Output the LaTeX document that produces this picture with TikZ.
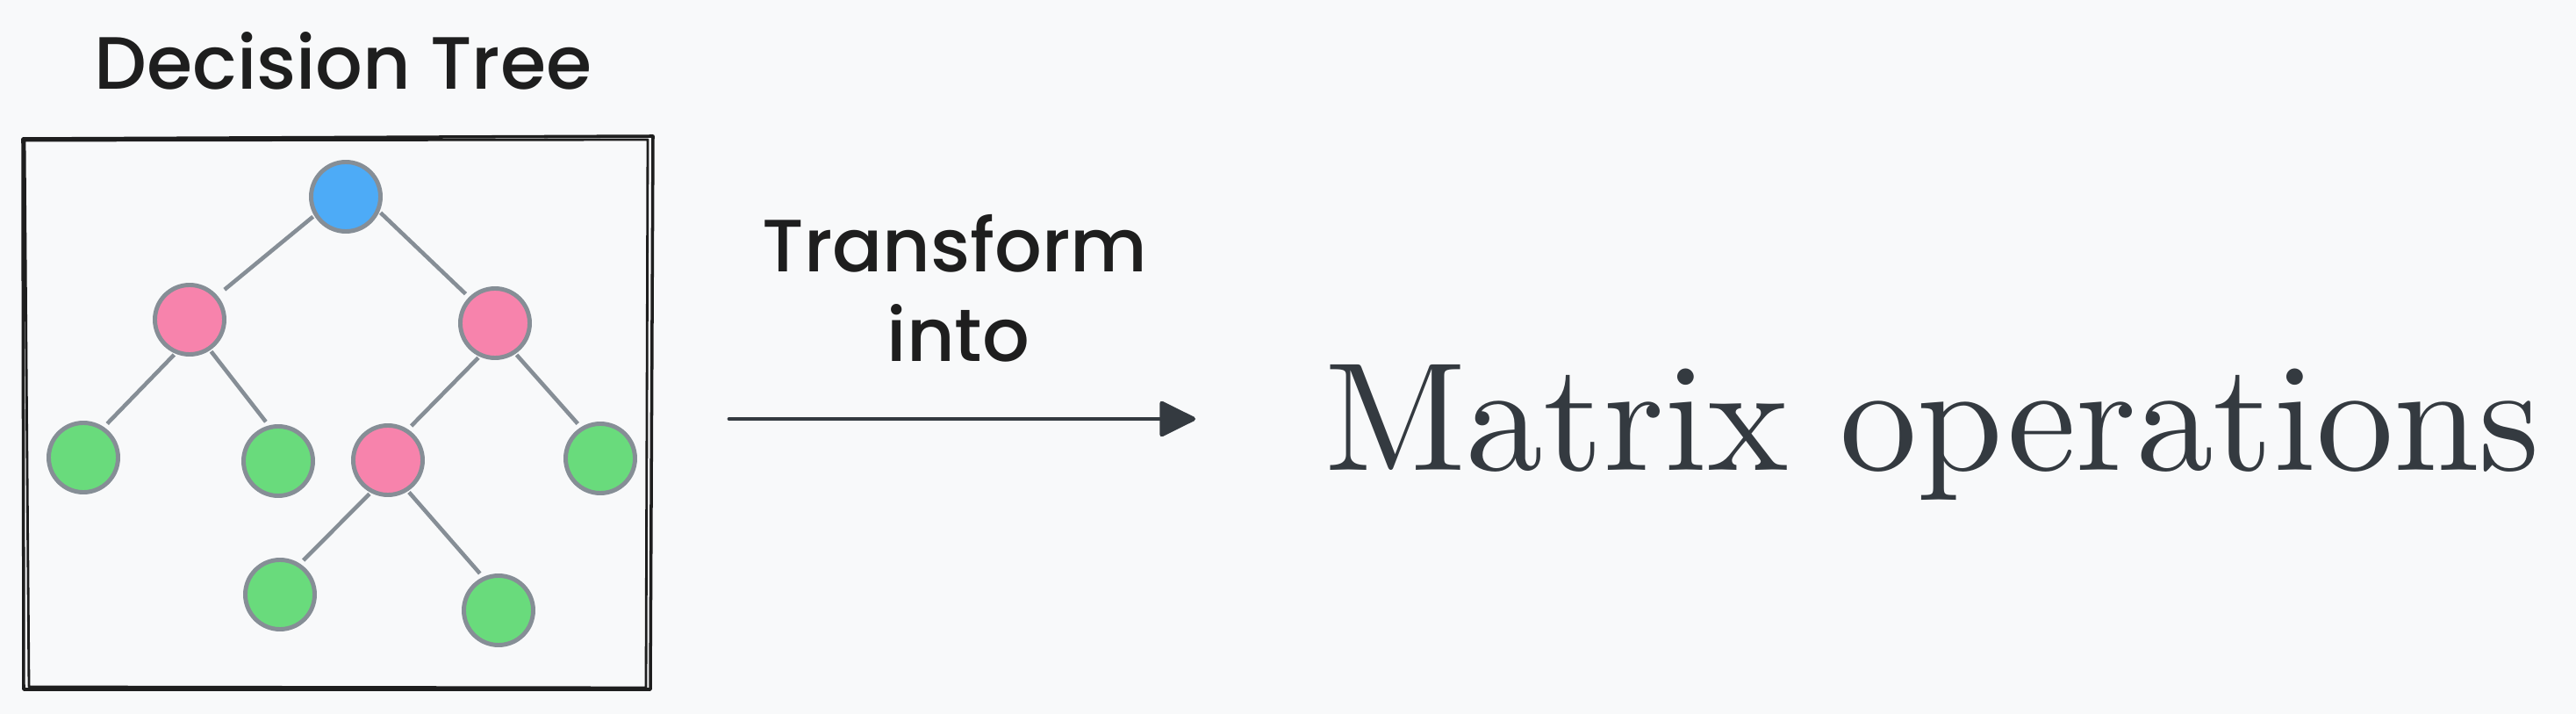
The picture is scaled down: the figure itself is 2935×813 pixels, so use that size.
\documentclass[tikz,border=0pt]{standalone}
\usepackage{fontspec}
\newfontfamily\handfont{Poppins}[BoldFont={* Medium}]
\newfontface\opsfont{lmroman10-regular.otf}
\usepackage{tikz}
\usetikzlibrary{arrows.meta}
\tikzset{>={Triangle[length=12.5pt,width=12pt,round]}}
\usepackage{xcolor}
\definecolor{bg}{HTML}{F8F9FA}
\definecolor{ink}{HTML}{1E1E1E}
\definecolor{dark}{HTML}{343A40}
\definecolor{edgegray}{HTML}{868E96}
\definecolor{b1}{HTML}{4DABF7}
\definecolor{p1}{HTML}{F783AC}
\definecolor{g1}{HTML}{69DB7C}
\tikzset{
  tnode/.style={circle,draw=edgegray,line width=1.4pt,inner sep=0pt,minimum size=0.79cm},
  tedge/.style={edgegray,line width=1.3pt,shorten <=0.5pt,shorten >=1.5pt},
  hand/.style={font=\handfont\bfseries\fontsize{24}{29}\selectfont,text=ink,inner sep=0pt,anchor=base}
}

\begin{document}
\begin{tikzpicture}[x=0.01cm,y=-0.01cm]
  \fill[bg] (0,0) rectangle (2935,813);
  \useasboundingbox (0,0) rectangle (2935,813);
  \draw[ink,line width=1pt,line join=round] (26,158) -- (744,155) -- (741,785) -- (27,785) -- cycle;
  \draw[ink,line width=0.8pt,line join=round] (28,160) -- (738,159) -- (736,783) -- (33,782) -- cycle;
  \node[hand] (title) at (391,102) {Decision Tree};
  \node[tnode,fill=b1] (root) at (394,224) {};
  \node[tnode,fill=p1] (l) at (216,364) {};
  \node[tnode,fill=p1] (r) at (564,368) {};
  \node[tnode,fill=g1] (ll) at (95,521) {};
  \node[tnode,fill=g1] (lr) at (317,525) {};
  \node[tnode,fill=p1] (rl) at (442,524) {};
  \node[tnode,fill=g1] (rr) at (684,522) {};
  \node[tnode,fill=g1] (rll) at (319,677) {};
  \node[tnode,fill=g1] (rlr) at (568,695) {};
  \draw[tedge,shorten >=3pt] (root.211) -- (l.41);
  \draw[tedge] (root.336) -- (r.135);
  \draw[tedge] (l.247) -- (ll.56);
  \draw[tedge] (l.304) -- (lr.105);
  \draw[tedge] (r.245) -- (rl.57);
  \draw[tedge] (r.304) -- (rr.122);
  \draw[tedge] (rl.242) -- (rll.57);
  \draw[tedge] (rl.303) -- (rlr.115);
  \node[hand] (transform) at (1088,310) {Transform};
  \node[hand] (into) at (1092,412) {into};
  \coordinate (tail) at (831,477);
  \coordinate (head) at (1362,477);
  \draw[->,dark,line width=1.4pt,line cap=round] (tail) -- (head);
  \node[font=\opsfont\fontsize{50}{60}\selectfont,text=dark,inner sep=0pt,anchor=base west] (ops) at (1509,536) {Matrix operations};
\end{tikzpicture}
\end{document}
